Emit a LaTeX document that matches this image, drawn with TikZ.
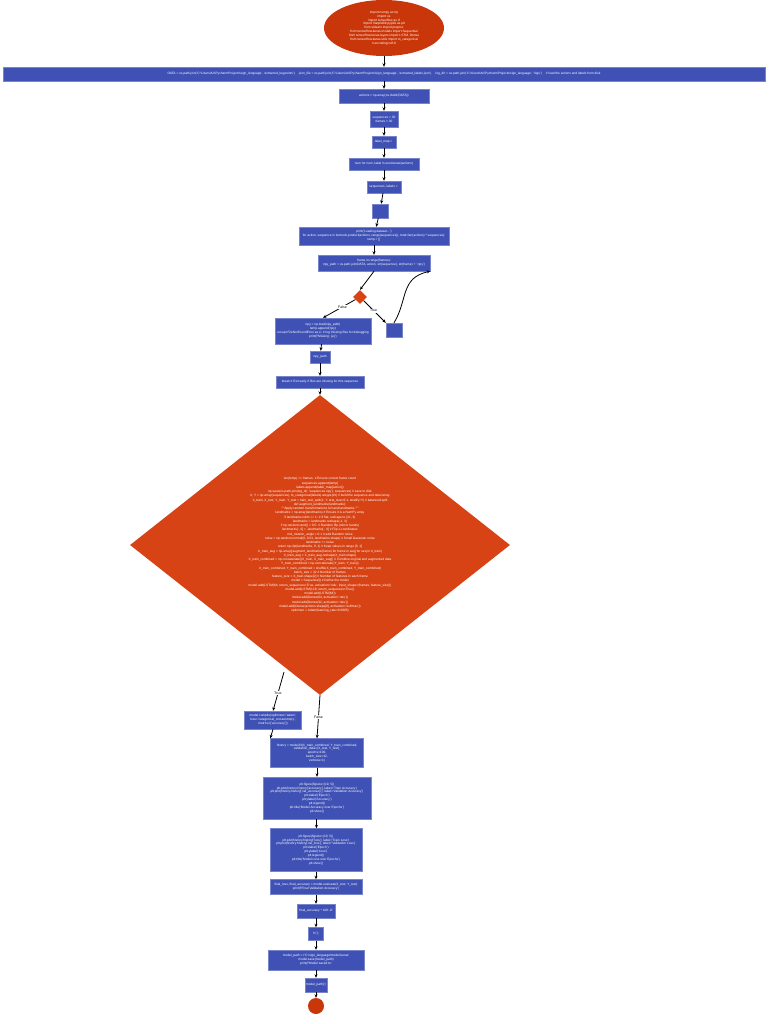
\documentclass[tikz,border=0pt]{standalone}
\usepackage{fontspec}
\setmainfont{Liberation Sans}
\usetikzlibrary{positioning}
\usetikzlibrary{shapes.geometric}
\usetikzlibrary{arrows.meta}
\definecolor{boxblue}{HTML}{3F51B5}
\definecolor{condred}{HTML}{D84315}
\definecolor{termred}{HTML}{C9360A}
\tikzset{
  stepbox/.style={rectangle,fill=boxblue,draw=boxblue!70!white,text=white,
    inner sep=1.5pt,align=center,font=\fontsize{3.2}{3.9}\selectfont},
  condbox/.style={diamond,fill=condred,inner sep=0pt},
  termnode/.style={ellipse,fill=termred,text=white,inner sep=0pt,align=center,
    font=\fontsize{3.2}{3.9}\selectfont},
  flow/.style={draw=black,thick,-{Stealth[length=3.5pt,width=3pt]}},
  branch/.style={fill=white,inner sep=0.8pt,font=\fontsize{3.5}{4}\selectfont}
}
\begin{document}
\begin{tikzpicture}[x=1pt,y=-1pt]
  \useasboundingbox[fill=white] (0,0) rectangle (768,1024);

  % nodes
  \node[termnode,minimum width=120,minimum height=56] (start) at (384,28)
    {import numpy as np\\import os\\import tensorflow as tf\\import matplotlib.pyplot as plt\\from sklearn import preproc\\from tensorflow.keras.models import Sequential\\from tensorflow.keras.layers import LSTM, Dense\\from tensorflow.keras.utils import to\_categorical\\\# encoding=utf-8};
  \node[stepbox,minimum width=762,minimum height=14] (paths) at (384,74)
    {DATA = os.path.join('C:\textbackslash Users\textbackslash Ari\textbackslash PycharmProjects\textbackslash sign\_language', 'extracted\_keypoints') \quad json\_file = os.path.join('C:\textbackslash Users\textbackslash Ari\textbackslash PycharmProjects\textbackslash sign\_language', 'extracted\_labels.json') \quad log\_dir = os.path.join('C:\textbackslash Users\textbackslash Ari\textbackslash PycharmProjects\textbackslash sign\_language', 'logs') \quad \# load the actions and labels from disk};
  \node[stepbox,minimum width=90,minimum height=14] (actions) at (384,96) {actions = np.array(os.listdir(DATA))};
  \node[stepbox,minimum width=28,minimum height=16] (seqs) at (384,119) {sequences = 30\\frames = 30};
  \node[stepbox,minimum width=24,minimum height=12] (labelmap) at (384,142) {label\_map = };
  \node[stepbox,minimum width=70,minimum height=12] (numfor) at (384,164) {num for num, label in enumerate(actions)};
  \node[stepbox,minimum width=34,minimum height=12] (seqlab) at (384,187) {sequences, labels = };
  \node[stepbox,minimum width=16,minimum height=14] (blank) at (380,211) {};
  \node[stepbox,minimum width=150,minimum height=18] (loading) at (374,236)
    {print('Loading dataset...')\\for action, sequence in itertools.product(actions, range(sequences)), total=len(actions) * sequences):\\temp = []};
  \node[stepbox,minimum width=112,minimum height=16] (frame) at (374,263)
    {frame in range(frames):\\npy\_path = os.path.join(DATA, action, str(sequence), str(frame) + '.npy')};
  \node[condbox,minimum width=14,minimum height=14] (check) at (360,297) {};
  \node[stepbox,minimum width=16,minimum height=14] (skip) at (394,330) {};
  \node[stepbox,minimum width=96,minimum height=26] (tryload) at (323,331)
    {npy = np.load(npy\_path)\\temp.append(npy)\\except FileNotFoundError as e: \# log missing files for debugging\\print(f'Missing: \{e\}')};
  \node[stepbox,minimum width=20,minimum height=12] (npypath) at (320,357) {npy\_path};
  \node[stepbox,minimum width=88,minimum height=12] (brk) at (320,382) {break  \# Exit early if files are missing for this sequence};
  \node[condbox,minimum width=380,minimum height=300] (bigcheck) at (320,545) {};
  \node[text=white,align=center,font=\fontsize{3.2}{4.25}\selectfont] (bigtext) at (320,545)
    {len(temp) == frames:  \# Ensure correct frame count\\sequences.append(temp)\\labels.append(label\_map[action])\\np.save(os.path.join(log\_dir, 'sequences.npy'), sequences)  \# save to disk\\X, Y = np.array(sequences), to\_categorical(labels).astype(int)  \# build the sequence and label array\\X\_train, X\_test, Y\_train, Y\_test = train\_test\_split(X, Y, test\_size=0.1, stratify=Y)  \# balanced split\\def augment\_landmarks(landmarks):\\"""Apply random transformations to hand landmarks."""\\landmarks = np.array(landmarks)  \# Ensure it is a NumPy array\\if landmarks.ndim == 1: \# If flat, reshape to (21, 3)\\landmarks = landmarks.reshape(-1, 3)\\if np.random.rand() < 0.5:  \# Random flip (mirror hands)\\landmarks[:, 0] = -landmarks[:, 0]  \# Flip x-coordinates\\rnd\_rotation\_angle = 0.1  \# add Random noise\\noise = np.random.normal(0, 0.01, landmarks.shape)  \# Small Gaussian noise\\landmarks += noise\\return np.clip(landmarks, 0, 1)  \# Keep values in range [0, 1]\\X\_train\_aug = np.array([augment\_landmarks(frame) for frame in seq] for seq in X\_train)\\X\_train\_aug = X\_train\_aug.reshape(X\_train.shape)\\X\_train\_combined = np.concatenate((X\_train, X\_train\_aug))  \# Combine original and augmented data\\Y\_train\_combined = np.concatenate((Y\_train, Y\_train))\\X\_train\_combined, Y\_train\_combined = shuffle(X\_train\_combined, Y\_train\_combined)\\batch\_size = 32  \# Number of frames\\feature\_size = X\_train.shape[2]  \# Number of features in each frame\\model = Sequential()  \# Define the model\\model.add(LSTM(64, return\_sequences=True, activation='relu', input\_shape=(frames, feature\_size)))\\model.add(LSTM(128, return\_sequences=True))\\model.add(LSTM(64))\\model.add(Dense(64, activation='relu'))\\model.add(Dense(32, activation='relu'))\\model.add(Dense(actions.shape[0], activation='softmax'))\\optimizer = Adam(learning\_rate=0.0005)};
  \node[stepbox,minimum width=57,minimum height=18] (earlystop) at (273,720)
    {model.compile(optimizer='adam',\\loss='categorical\_crossentropy',\\metrics=['accuracy'])};
  \node[stepbox,minimum width=93,minimum height=29] (history) at (317,753)
    {history = model.fit(X\_train\_combined, Y\_train\_combined,\\validation\_data=(X\_test, Y\_test),\\epochs=100,\\batch\_size=32,\\verbose=1)};
  \node[stepbox,minimum width=108,minimum height=42] (plotacc) at (317,798)
    {plt.figure(figsize=(10, 5))\\plt.plot(history.history['accuracy'], label='Train Accuracy')\\plt.plot(history.history['val\_accuracy'], label='Validation Accuracy')\\plt.xlabel('Epoch')\\plt.ylabel('Accuracy')\\plt.legend()\\plt.title('Model Accuracy over Epochs')\\plt.show()};
  \node[stepbox,minimum width=92,minimum height=43] (plotloss) at (316,850)
    {plt.figure(figsize=(10, 5))\\plt.plot(history.history['loss'], label='Train Loss')\\plt.plot(history.history['val\_loss'], label='Validation Loss')\\plt.xlabel('Epoch')\\plt.ylabel('Loss')\\plt.legend()\\plt.title('Model Loss over Epochs')\\plt.show()};
  \node[stepbox,minimum width=92,minimum height=15] (evaluate) at (316,887)
    {final\_loss, final\_accuracy = model.evaluate(X\_test, Y\_test)\\print(f'Final Validation Accuracy')};
  \node[stepbox,minimum width=38,minimum height=14] (finalacc) at (316,911) {final\_accuracy * 100:.2f};
  \node[stepbox,minimum width=15,minimum height=13] (pct) at (316,934) {\%');};
  \node[stepbox,minimum width=96,minimum height=20] (save) at (316,960)
    {model\_path = r'C:\textbackslash sign\_language\textbackslash model.keras'\\model.save(model\_path)\\print(f'Model saved to:};
  \node[stepbox,minimum width=22,minimum height=14] (savedpath) at (316,985) {model\_path\}')};
  \node[termnode,minimum width=16,minimum height=16] (stop) at (316,1006) {};
  \coordinate (leftexit) at (284,672);

  % connectors
  \path[flow] (start) -- (paths);
  \path[flow] (paths) -- (actions);
  \path[flow] (actions) -- (seqs);
  \path[flow] (seqs) -- (labelmap);
  \path[flow] (labelmap) -- (numfor);
  \path[flow] (numfor) -- (seqlab);
  \path[flow] (seqlab) -- (blank);
  \path[flow] (blank) -- (loading);
  \path[flow] (loading) -- (frame);
  \path[flow] (frame.south) -- (check.north);
  \path[flow] (check) -- node[branch,pos=0.4] {False} (tryload.north);
  \path[flow] (check) -- node[branch,pos=0.45] {True} (skip.north west);
  \path[flow] (skip.north) .. controls (408,300) and (400,278) .. (frame.south east);
  \path[flow] (tryload) -- (npypath);
  \path[flow] (npypath) -- (brk);
  \path[flow] (brk) -- (bigcheck.north);
  \path[flow] (leftexit) -- node[branch,pos=0.55] {True} (earlystop.north);
  \path[flow] (bigcheck.south) -- node[branch,pos=0.5] {False} (history.north);
  \path[flow] (earlystop.south) -- (history.north west);
  \path[flow] (history) -- (plotacc);
  \path[flow] (plotacc) -- (plotloss);
  \path[flow] (plotloss) -- (evaluate);
  \path[flow] (evaluate) -- (finalacc);
  \path[flow] (finalacc) -- (pct);
  \path[flow] (pct) -- (save);
  \path[flow] (save) -- (savedpath);
  \path[flow] (savedpath) -- (stop);
\end{tikzpicture}
\end{document}
